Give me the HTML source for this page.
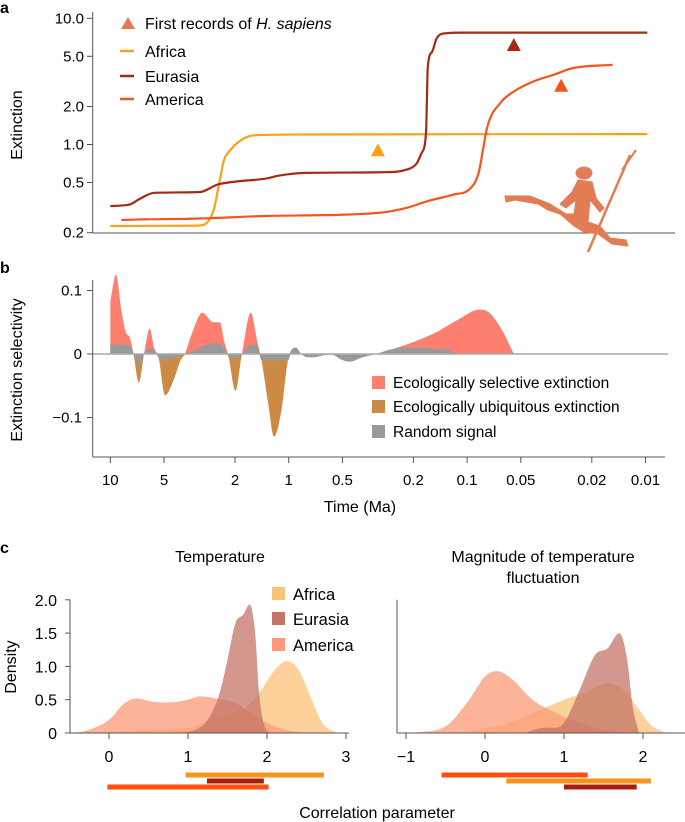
<!DOCTYPE html>
<html><head><meta charset="utf-8">
<style>
body{margin:0;background:#fff;}
svg{display:block;font-family:"Liberation Sans",Arial,sans-serif;}
</style></head>
<body>
<svg id="fig" width="685" height="822" viewBox="0 0 685 822" xmlns="http://www.w3.org/2000/svg">
<text x="0" y="13" font-weight="bold" font-size="16">a</text>
<text x="0" y="273" font-weight="bold" font-size="16">b</text>
<text x="0" y="553" font-weight="bold" font-size="16">c</text>
<g id="pa"></g>
<g id="pb"></g>
<g id="pc"></g>
</svg>
<script>
// ---------- Panel a data ----------
const africaT=[10,7.75,5.68,3.14,2.64,2.43,2.30,2.11,1.94,1.68,1.42,0.808,0.00977];
const africaV=[0.226,0.226,0.227,0.228,0.30,0.528,0.76,0.91,1.03,1.16,1.19,1.2,1.21];
const eurasiaT=[10,7.75,6.92,5.68,3.14,2.50,1.94,1.34,1.13,0.808,0.290,0.218,0.191,0.180,0.170,0.166,0.157,0.148,0.132,0.105,0.00977];
const eurasiaV=[0.325,0.335,0.367,0.414,0.42,0.482,0.51,0.537,0.567,0.596,0.603,0.633,0.714,0.857,1.23,4.15,5.45,6.95,7.61,7.7,7.7];
const americaT=[8.68,6.54,3.14,1.42,0.457,0.290,0.218,0.166,0.118,0.0964,0.0862,0.0814,0.0770,0.0652,0.0547,0.0424,0.0329,0.0255,0.0153];
const americaV=[0.252,0.255,0.259,0.271,0.279,0.291,0.315,0.356,0.402,0.445,0.596,0.91,1.39,2.13,2.63,3.16,3.56,4.03,4.28];
const firstT=[0.316,0.0547,0.0297];
const firstV=[0.9,6.15,2.92];
const yTicksA=[10,5,2,1,0.5,0.2];
const yTickLabelsA=["10.0","5.0","2.0","1.0","0.5","0.2"];
// ---------- Panel b data ----------
const timeB=[10,9.29,8.68,8.2,7.75,7.41,6.92,6.47,6.01,5.68,5.37,4.93,4.40,4.04,3.82,3.51,3.05,2.64,2.43,2.30,2.17,1.99,1.83,1.63,1.50,1.42,1.30,1.21,1.10,1.01,0.955,0.912,0.851,0.783,0.719,0.642,0.573,0.512,0.457,0.386,0.325,0.259,0.195,0.147,0.128,0.111,0.086,0.075,0.063,0.0547];
const totalSel=[0.083,0.125,0.07,0.035,0.025,0,-0.045,0,0.04,0.01,-0.005,-0.065,-0.04,-0.01,0,0.03,0.065,0.05,0.05,0.02,-0.005,-0.058,0,0.065,0.02,-0.01,-0.08,-0.13,-0.09,-0.01,0.008,0.01,0,-0.005,-0.005,-0.002,-0.001,-0.008,-0.012,-0.005,0,0.008,0.02,0.035,0.045,0.055,0.07,0.065,0.035,0];
const randomSig=[0.015,0.015,0.015,0.014,0.013,0,-0.017,0,0.009,0.006,-0.005,-0.01,-0.007,-0.003,0,0.004,0.012,0.017,0.016,0.01,-0.004,-0.006,0,0.015,0.014,-0.01,-0.01,-0.01,-0.01,-0.01,0.008,0.01,0,-0.005,-0.005,-0.002,-0.001,-0.008,-0.012,-0.005,0,0.008,0.01,0.008,0.007,0,0,0,0,0];
const timeTicks=[10,5,2,1,0.5,0.2,0.1,0.05,0.02,0.01];
const timeTickLabels=["10","5","2","1","0.5","0.2","0.1","0.05","0.02","0.01"];
const yTicksB=[0.1,0,-0.1];
const yTickLabelsB=["0.1","0","\u22120.1"];
// ---------- Panel c data ----------
const tempAmX=[-0.5,-0.3,0,0.2,0.35,0.55,0.75,1.0,1.15,1.35,1.6,1.8,2.0,2.3,2.6];
const tempAmY=[0,0.03,0.2,0.45,0.52,0.47,0.46,0.5,0.55,0.52,0.45,0.3,0.15,0.03,0];
const tempEuX=[0.8,1.1,1.25,1.4,1.5,1.6,1.7,1.78,1.85,1.9,1.97,2.05];
const tempEuY=[0,0.05,0.2,0.6,1.1,1.65,1.78,1.93,1.5,0.6,0.1,0];
const tempAfX=[0,0.5,1.0,1.4,1.7,1.9,2.1,2.25,2.4,2.55,2.7,2.85,2.95];
const tempAfY=[0,0.05,0.08,0.25,0.35,0.6,0.95,1.08,0.95,0.55,0.15,0.02,0];
const fluAmX=[-0.9,-0.5,-0.2,0,0.15,0.35,0.6,0.9,1.2,1.5,1.9];
const fluAmY=[0,0.1,0.5,0.85,0.93,0.8,0.5,0.3,0.15,0.05,0];
const fluAfX=[-0.3,0.3,0.7,1.0,1.3,1.55,1.75,1.95,2.1,2.3];
const fluAfY=[0,0.15,0.35,0.5,0.62,0.75,0.65,0.35,0.12,0];
const fluEuX=[0.5,0.75,0.9,1.0,1.2,1.4,1.55,1.7,1.8,1.87,1.95];
const fluEuY=[0,0.08,0.08,0.15,0.65,1.18,1.27,1.5,1.1,0.4,0];
const ciTempLo=[0.97,1.24,-0.02], ciTempHi=[2.72,1.96,2.02];
const ciFluLo=[-0.55,0.27,1.0], ciFluHi=[1.3,2.1,1.92];
const densTicks=[2.0,1.5,1.0,0.5,0];
const densTickLabels=["2.0","1.5","1.0","0.5","0"];

const NS="http://www.w3.org/2000/svg";
function mk(parent,tag,attrs,text){const e=document.createElementNS(NS,tag);for(const k in attrs)e.setAttribute(k,attrs[k]);if(text!==undefined)e.textContent=text;parent.appendChild(e);return e;}
const xT=t=>110.3+(1-Math.log10(t))*178.4;
const yA=v=>18.3+(1-Math.log10(v))*126.2;
const yB=v=>354-v*635;
const C={af:"#f9a11b",eu:"#a52a13",am:"#f2561d"};
// monotone cubic path through pixel points (x increasing)
function smooth(P){
  const n=P.length;if(n<2)return '';
  const dx=[],s=[];for(let i=0;i<n-1;i++){dx[i]=P[i+1][0]-P[i][0];s[i]=(P[i+1][1]-P[i][1])/dx[i];}
  const m=[s[0]];for(let i=1;i<n-1;i++){m[i]=(s[i-1]*s[i]<=0)?0:(s[i-1]+s[i])/2;}m[n-1]=s[n-2];
  for(let i=0;i<n-1;i++){if(s[i]===0){m[i]=0;m[i+1]=0;continue;}const a=m[i]/s[i],b=m[i+1]/s[i],h=a*a+b*b;if(h>9){const t=3/Math.sqrt(h);m[i]=t*a*s[i];m[i+1]=t*b*s[i];}}
  let d=' L'+P[0][0].toFixed(1)+' '+P[0][1].toFixed(1);
  for(let i=0;i<n-1;i++){const h=dx[i]/3;d+=` C${(P[i][0]+h).toFixed(1)} ${(P[i][1]+m[i]*h).toFixed(1)} ${(P[i+1][0]-h).toFixed(1)} ${(P[i+1][1]-m[i+1]*h).toFixed(1)} ${P[i+1][0].toFixed(1)} ${P[i+1][1].toFixed(1)}`;}
  return d;
}

// ---- Panel a ----
const pa=document.getElementById('pa');
let e=mk(pa,'line',{x1:92.7,y1:12,x2:92.7,y2:233,stroke:'#555','stroke-width':1});

e=mk(pa,'line',{x1:92.7,y1:233,x2:675,y2:233,stroke:'#555','stroke-width':1});

yTicksA.forEach((v,i)=>{
  e=mk(pa,'line',{x1:87,y1:yA(v),x2:92.7,y2:yA(v),stroke:'#555'});
  
  e=mk(pa,'text',{x:84,y:yA(v)+5,'text-anchor':'end','font-size':15},yTickLabelsA[i]);
  
});
e=mk(pa,'text',{x:22,y:125,'font-size':16,'text-anchor':'middle',transform:'rotate(-90 22 125)'},'Extinction');

// figure silhouette
const fig=mk(pa,'g',{fill:'#e37b55',stroke:'#e37b55'});

mk(fig,'ellipse',{cx:584,cy:173,rx:8,ry:6});
mk(fig,'path',{d:'M578 180 L592 182 L596 198 L604 208 L600 212 L590 200 L588 222 L600 226 L610 238 L626 240 L628 246 L612 244 L598 234 L584 232 L574 226 L560 214 L548 210 L538 204 L515 200 L506 202 L505 196 L530 196 L550 204 L566 214 L574 214 L576 200 L566 208 L560 204 L572 192 Z','stroke-width':1});
mk(fig,'line',{x1:588,y1:252,x2:630,y2:155,'stroke-width':2.5,fill:'none'});
mk(fig,'line',{x1:622,y1:170,x2:636,y2:150,'stroke-width':2,fill:'none'});
function line(g,T,V,color,name){
  const P=T.map((t,i)=>[xT(t),yA(V[i])]);
  const d='M'+smooth(P).slice(2);
  const p=mk(g,'path',{d:d,fill:'none',stroke:color,'stroke-width':2.2,'stroke-linejoin':'round'});
  
}
line(pa,africaT,africaV,C.af,'africa-line');
line(pa,eurasiaT,eurasiaV,C.eu,'eurasia-line');
line(pa,americaT,americaV,C.am,'america-line');
[C.af,C.eu,C.am].forEach((c,i)=>{
  const x=xT(firstT[i]),y=yA(firstV[i]);
  const t=mk(pa,'path',{d:`M${x-7} ${y+6} L${x+7} ${y+6} L${x} ${y-7} Z`,fill:c});
  
});
// legend a
let lg=mk(pa,'g',{});

mk(lg,'path',{d:'M121 29 L135 29 L128 17 Z',fill:'#e37b55'});
let tx=mk(lg,'text',{x:145,y:29,'font-size':16});
mk(tx,'tspan',{},'First records of ');mk(tx,'tspan',{'font-style':'italic'},'H. sapiens');
[['Africa',C.af,51],['Eurasia',C.eu,76],['America',C.am,99]].forEach(([n,c,y])=>{
  e=mk(lg,'line',{x1:120,y1:y,x2:134,y2:y,stroke:c,'stroke-width':2.5});
  
  mk(lg,'text',{x:145,y:y+6,'font-size':16},n);
});

// ---- Panel b ----
const pb=document.getElementById('pb');
const defs=mk(pb,'defs',{});
const cp1=mk(defs,'clipPath',{id:'above'});mk(cp1,'rect',{x:0,y:0,width:685,height:354});
const cp2=mk(defs,'clipPath',{id:'below'});mk(cp2,'rect',{x:0,y:354,width:685,height:200});
function area(T,V){const P=T.map((t,i)=>[xT(t),yB(V[i])]);return 'M'+xT(T[0]).toFixed(1)+' '+yB(0)+smooth(P)+' L'+xT(T[T.length-1]).toFixed(1)+' '+yB(0)+' Z';}
e=mk(pb,'path',{d:area(timeB,totalSel),fill:'#fc7f6f','clip-path':'url(#above)'});

e=mk(pb,'path',{d:area(timeB,totalSel),fill:'#cd8a45','clip-path':'url(#below)'});

e=mk(pb,'path',{d:area(timeB,randomSig),fill:'#999'});

e=mk(pb,'line',{x1:92.7,y1:yB(0),x2:668,y2:yB(0),stroke:'#aaa','stroke-width':1.5});

e=mk(pb,'line',{x1:92.7,y1:280,x2:92.7,y2:457,stroke:'#555'});

e=mk(pb,'line',{x1:92.7,y1:457,x2:665,y2:457,stroke:'#555'});

yTicksB.forEach((v,i)=>{
  e=mk(pb,'line',{x1:87,y1:yB(v),x2:92.7,y2:yB(v),stroke:'#555'});
  
  e=mk(pb,'text',{x:82,y:yB(v)+5,'text-anchor':'end','font-size':15},yTickLabelsB[i]);
  
});
timeTicks.forEach((t,i)=>{
  e=mk(pb,'line',{x1:xT(t),y1:457,x2:xT(t),y2:463,stroke:'#555'});
  
  e=mk(pb,'text',{x:xT(t),y:485,'text-anchor':'middle','font-size':15},timeTickLabels[i]);
  
});
e=mk(pb,'text',{x:360,y:512,'text-anchor':'middle','font-size':16},'Time (Ma)');

e=mk(pb,'text',{x:22,y:370,'font-size':16,'text-anchor':'middle',transform:'rotate(-90 22 370)'},'Extinction selectivity');

[['Ecologically selective extinction','#fc7f6f',383],['Ecologically ubiquitous extinction','#cd8a45',407],['Random signal','#999',432]].forEach(([n,c,y])=>{
  e=mk(pb,'rect',{x:372,y:y-7,width:13,height:13,fill:c});
  
  e=mk(pb,'text',{x:393,y:y+5,'font-size':15.5},n);
  
});

// ---- Panel c ----
const pc=document.getElementById('pc');
const yC=d=>733-d*66.6;
const xL=v=>109+v*79, xR=v=>485+v*79;
function darea(xf,X,Y,fill,name){
  const P=X.map((x,i)=>[xf(x),yC(Y[i])]);
  const d='M'+xf(X[0]).toFixed(1)+' '+yC(0)+smooth(P)+' Z';
  const p=mk(pc,'path',{d:d,fill:fill,'fill-opacity':0.75});
  
}
const CC={af:"#fdc27a",eu:"#c47467",am:"#fb9a78"};
darea(xL,tempAfX,tempAfY,CC.af,'temp-africa-density');
darea(xL,tempAmX,tempAmY,CC.am,'temp-america-density');
darea(xL,tempEuX,tempEuY,CC.eu,'temp-eurasia-density');
darea(xR,fluAfX,fluAfY,CC.af,'flu-africa-density');
darea(xR,fluAmX,fluAmY,CC.am,'flu-america-density');
darea(xR,fluEuX,fluEuY,CC.eu,'flu-eurasia-density');
e=mk(pc,'line',{x1:70,y1:yC(2),x2:70,y2:733,stroke:'#555'});

e=mk(pc,'line',{x1:65,y1:733,x2:349,y2:733,stroke:'#555'});

e=mk(pc,'line',{x1:397,y1:yC(2),x2:397,y2:733,stroke:'#555'});

e=mk(pc,'line',{x1:397,y1:733,x2:685,y2:733,stroke:'#555'});

densTicks.forEach((v,i)=>{
  e=mk(pc,'line',{x1:65,y1:yC(v),x2:70,y2:yC(v),stroke:'#555'});
  
  e=mk(pc,'text',{x:57,y:yC(v)+6,'text-anchor':'end','font-size':16},densTickLabels[i]);
  
});
[0,1,2,3].forEach(v=>{
  e=mk(pc,'line',{x1:xL(v),y1:733,x2:xL(v),y2:739,stroke:'#555'});
  
  e=mk(pc,'text',{x:xL(v),y:762,'text-anchor':'middle','font-size':16},String(v));
  
});
[-1,0,1,2].forEach(v=>{
  e=mk(pc,'line',{x1:xR(v),y1:733,x2:xR(v),y2:739,stroke:'#555'});
  
  e=mk(pc,'text',{x:xR(v),y:762,'text-anchor':'middle','font-size':16},v<0?'\u2212'+(-v):String(v));
  
});
const barCol=[["#f7941d","#a61e0c","#ff4e0e"],["#ff4e0e","#f7941d","#a61e0c"]];
[775,781,787].forEach((y,i)=>{
  e=mk(pc,'rect',{x:xL(ciTempLo[i]),y:y-2.5,width:xL(ciTempHi[i])-xL(ciTempLo[i]),height:5,fill:barCol[0][i]});
  
  e=mk(pc,'rect',{x:xR(ciFluLo[i]),y:y-2.5,width:xR(ciFluHi[i])-xR(ciFluLo[i]),height:5,fill:barCol[1][i]});
  
});
e=mk(pc,'text',{x:220,y:562,'text-anchor':'middle','font-size':16},'Temperature');

e=mk(pc,'text',{x:543,y:562,'text-anchor':'middle','font-size':16},'Magnitude of temperature');

mk(pc,'text',{x:543,y:583,'text-anchor':'middle','font-size':16},'fluctuation');
e=mk(pc,'text',{x:377,y:818,'text-anchor':'middle','font-size':16},'Correlation parameter');

e=mk(pc,'text',{x:16,y:667,'font-size':16,'text-anchor':'middle',transform:'rotate(-90 16 667)'},'Density');

[['Africa',CC.af,594],['Eurasia',CC.eu,619],['America',CC.am,645]].forEach(([n,c,y])=>{
  e=mk(pc,'rect',{x:272,y:y-7,width:13,height:13,fill:c});
  
  e=mk(pc,'text',{x:293,y:y+6,'font-size':16.5},n);
  
});
</script>
</body></html>
